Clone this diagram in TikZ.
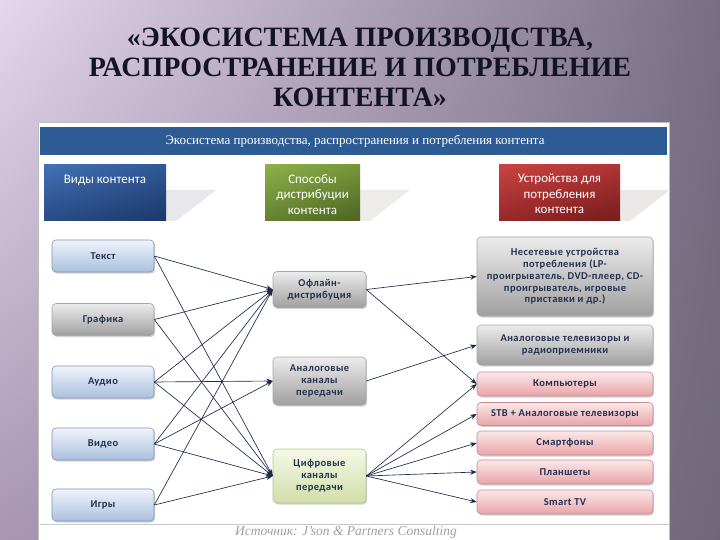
\documentclass[tikz,border=0pt]{standalone}
\usepackage{fontspec}
\setmainfont{Liberation Serif}
\newfontfamily\boxf{Carlito}[LetterSpace=4]
\newfontfamily\headf{Carlito}
\usetikzlibrary{arrows.meta,shadows,shadings}
\definecolor{navy}{HTML}{1C2A4A}
\definecolor{titlec}{HTML}{121326}
\definecolor{barblue}{HTML}{2D5C94}
\definecolor{txtc}{HTML}{23324F}
\definecolor{bgul}{RGB}{228,214,238}
\definecolor{bgur}{RGB}{120,110,132}
\definecolor{bgll}{RGB}{168,150,178}
\definecolor{bglr}{RGB}{112,104,122}
\definecolor{bl1}{RGB}{66,114,182}\definecolor{bl2}{RGB}{48,88,150}\definecolor{bl3}{RGB}{40,76,134}\definecolor{bl4}{RGB}{28,56,104}
\definecolor{gr1}{RGB}{142,176,74}\definecolor{gr2}{RGB}{118,150,58}\definecolor{gr3}{RGB}{100,130,48}\definecolor{gr4}{RGB}{76,100,34}
\definecolor{rd1}{RGB}{200,68,66}\definecolor{rd2}{RGB}{176,52,52}\definecolor{rd3}{RGB}{150,40,40}\definecolor{rd4}{RGB}{118,28,30}
\definecolor{lbtop}{RGB}{240,244,251}\definecolor{lbbot}{RGB}{170,192,222}\definecolor{lbdraw}{RGB}{130,148,178}
\definecolor{gntop}{RGB}{245,248,232}\definecolor{gnbot}{RGB}{208,222,168}\definecolor{gndraw}{RGB}{180,196,140}
\definecolor{pktop}{RGB}{252,232,233}\definecolor{pkbot}{RGB}{232,164,168}\definecolor{pkdraw}{RGB}{200,140,144}
\begin{document}
\begin{tikzpicture}[x=1pt,y=-1pt,
  box/.style={rounded corners=4pt, draw=#1, line width=0.6pt, text=txtc,
     font=\boxf\bfseries\fontsize{10.5}{11.8}\selectfont, align=center, inner sep=1pt,
     drop shadow={shadow xshift=1.2pt, shadow yshift=-1.5pt, opacity=0.35}},
  bluebox/.style={box=lbdraw, top color=lbtop, bottom color=lbbot,
     minimum width=102pt, minimum height=32pt},
  graybox/.style={box=gray!70, top color=gray!15, bottom color=gray!75},
  greenbox/.style={box=gndraw, top color=gntop, bottom color=gnbot},
  pinkbox/.style={box=pkdraw, top color=pktop, bottom color=pkbot,
     minimum width=176pt, minimum height=24pt},
  midw/.style={minimum width=93pt},
  rightw/.style={minimum width=176pt},
  headbox/.style={text=white, font=\headf\fontsize{13}{15.5}\selectfont, align=center, inner sep=0pt},
  link/.style={navy, line width=0.65pt, -{Stealth[length=6.5pt,width=5pt]}}
]
\useasboundingbox (0,0) rectangle (720,540);
% background
\shade[upper left=bgul, upper right=bgur, lower left=bgll, lower right=bglr] (0,0) rectangle (720,540);
% title
\node[text=titlec, font=\bfseries\fontsize{28}{30}\selectfont, align=center, anchor=north] (title) at (360,24)
  {«ЭКОСИСТЕМА ПРОИЗВОДСТВА,\\РАСПРОСТРАНЕНИЕ И ПОТРЕБЛЕНИЕ\\КОНТЕНТА»};
% panel
\fill[white] (38,122) rectangle (669,540);
\draw[gray!50, line width=0.5pt] (38,540) -- (38,122) -- (669,122) -- (669,540);
\fill[barblue] (40,127) rectangle (667,155);
\node[text=white, font=\fontsize{13}{14}\selectfont] (bar) at (355,141)
  {Экосистема производства, распространения и потребления контента};
\draw[gray!45, line width=0.5pt] (40,524) -- (669,524);
% header wedges
\foreach \r/\c in {166/blue, 360/olive, 620/red}{
  \fill[\c!10!gray!20, opacity=0.8] (\r,190) -- (\r+50,190) -- (\r+10,221) -- (\r,221) -- cycle;
}
% header boxes
\shade[upper left=bl1, upper right=bl2, lower left=bl3, lower right=bl4] (44,165) rectangle (166,221);
\node[headbox, anchor=north] (h1) at (105,175) {Виды контента};
\shade[upper left=gr1, upper right=gr2, lower left=gr3, lower right=gr4] (265,165) rectangle (360,221);
\node[headbox, anchor=north] (h2) at (312.5,174) {Способы\\дистрибуции\\контента};
\shade[upper left=rd1, upper right=rd2, lower left=rd3, lower right=rd4] (499,165) rectangle (620,221);
\node[headbox, anchor=north] (h3) at (559.5,174) {Устройства для\\потребления\\контента};
% left column
\node[bluebox] (tekst) at (103,256) {Текст};
\node[graybox, minimum width=102pt, minimum height=32pt] (graf) at (103,319.5) {Графика};
\node[bluebox] (audio) at (103,382) {Аудио};
\node[bluebox] (video) at (103,444) {Видео};
\node[bluebox] (igry) at (103,505) {Игры};
% middle column
\node[graybox, midw, minimum height=36pt] (off) at (319.5,289.5) {Офлайн-\\дистрибуция};
\node[graybox, midw, minimum height=48pt] (analog) at (319.5,381) {Аналоговые\\каналы\\передачи};
\node[greenbox, midw, minimum height=54pt] (digit) at (319.5,476) {Цифровые\\каналы\\передачи};
% right column
\node[graybox, rightw, minimum height=79pt] (nonnet) at (565,276.5)
  {Несетевые устройства\\потребления (LP-\\проигрыватель, DVD-плеер, CD-\\проигрыватель, игровые\\приставки и др.)};
\node[graybox, rightw, minimum height=40pt] (atv) at (565,345) {Аналоговые телевизоры и\\радиоприемники};
\node[pinkbox] (pc) at (565,384) {Компьютеры};
\node[pinkbox, minimum height=23pt] (stb) at (565,414) {STB + Аналоговые телевизоры};
\node[pinkbox] (smart) at (565,443) {Смартфоны};
\node[pinkbox] (tab) at (565,472) {Планшеты};
\node[pinkbox] (stv) at (565,502) {Smart TV};
% links left -> middle
\foreach \s in {tekst, graf, audio, video, igry}{
  \draw[link] (\s.east) -- (off.west);
  \draw[link] (\s.east) -- (digit.west);
}
\draw[link] (audio.east) -- (analog.west);
\draw[link] (video.east) -- (analog.west);
% links middle -> right
\draw[link] (off.east) -- (nonnet.west);
\draw[link] (off.east) -- (pc.west);
\draw[link] (analog.east) -- (atv.west);
\foreach \t in {pc, stb, smart, tab, stv}{
  \draw[link] (digit.east) -- (\t.west);
}
% source
\node[text=gray!75, font=\itshape\fontsize{13.5}{15}\selectfont] (src) at (346,532)
  {Источник: J’son \& Partners Consulting};
\end{tikzpicture}
\end{document}
